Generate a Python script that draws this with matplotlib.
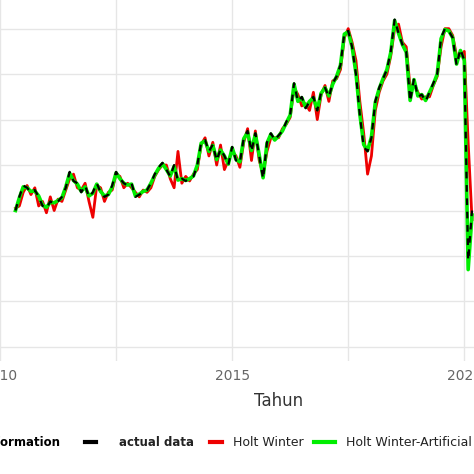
import numpy as np
import matplotlib.pyplot as plt
from matplotlib.lines import Line2D

# monthly values starting 2010-05 (arbitrary units)
actual = [3.0, 3.3, 3.55, 3.5, 3.4, 3.45, 3.3, 3.1,
          3.05, 3.2, 3.15, 3.2, 3.3, 3.5, 3.85, 3.65, 3.6, 3.4, 3.55, 3.3,
          3.4, 3.6, 3.4, 3.3, 3.35, 3.55, 3.85, 3.7, 3.6, 3.55, 3.6, 3.3,
          3.35, 3.4, 3.45, 3.6, 3.8, 3.95, 4.05, 3.9, 3.75, 4.0, 3.65, 3.7,
          3.65, 3.7, 3.75, 4.0, 4.5, 4.55, 4.3, 4.45, 4.1, 4.35, 4.2, 4.0,
          4.4, 4.1, 4.05, 4.6, 4.75, 4.3, 4.7, 4.2, 3.7, 4.5, 4.7, 4.55,
          4.65, 4.75, 4.95, 5.1, 5.8, 5.4, 5.5, 5.25, 5.4, 5.5, 5.2, 5.6,
          5.7, 5.5, 5.8, 5.95, 6.2, 6.9, 6.95, 6.6, 6.0, 5.1, 4.4, 4.3,
          4.6, 5.4, 5.7, 5.9, 6.1, 6.5, 7.2, 6.9, 6.65, 6.5, 5.4, 5.9,
          5.5, 5.55, 5.4, 5.6, 5.8, 6.0, 6.8, 7.0, 6.95, 6.8, 6.2, 6.55,
          6.3, 1.9, 3.0]
holt_winter = [3.05, 3.1, 3.4, 3.55, 3.35, 3.5, 3.1, 3.2,
               2.95, 3.3, 3.0, 3.25, 3.2, 3.45, 3.7, 3.8, 3.5, 3.45, 3.6, 3.2,
               2.85, 3.55, 3.5, 3.2, 3.4, 3.45, 3.8, 3.75, 3.5, 3.6, 3.5, 3.4,
               3.3, 3.45, 3.4, 3.5, 3.75, 3.9, 4.0, 4.0, 3.7, 3.5, 4.3, 3.6,
               3.75, 3.65, 3.8, 3.9, 4.45, 4.6, 4.2, 4.5, 4.0, 4.44, 3.9, 4.1,
               4.3, 4.2, 3.95, 4.5, 4.8, 4.1, 4.75, 4.1, 3.8, 4.3, 4.6, 4.6,
               4.6, 4.8, 4.9, 5.05, 5.7, 5.55, 5.3, 5.35, 5.2, 5.6, 5.0, 5.55,
               5.75, 5.4, 5.85, 5.9, 6.1, 6.8, 7.0, 6.7, 6.3, 5.4, 4.7, 3.8,
               4.2, 5.2, 5.6, 5.85, 6.0, 6.4, 7.0, 7.1, 6.7, 6.6, 5.7, 5.8,
               5.6, 5.45, 5.5, 5.5, 5.75, 5.95, 6.6, 7.0, 7.0, 6.85, 6.4, 6.4,
               6.5, 4.5, 2.8]
hw_ann = [3.0, 3.28, 3.52, 3.5, 3.42, 3.43, 3.32, 3.12,
          3.07, 3.18, 3.17, 3.22, 3.28, 3.52, 3.82, 3.66, 3.58, 3.42, 3.52, 3.32,
          3.38, 3.58, 3.42, 3.32, 3.35, 3.52, 3.83, 3.7, 3.6, 3.56, 3.58, 3.32,
          3.36, 3.42, 3.45, 3.6, 3.78, 3.93, 4.03, 3.9, 3.76, 3.97, 3.67, 3.7,
          3.66, 3.7, 3.76, 4.0, 4.48, 4.53, 4.3, 4.43, 4.12, 4.33, 4.2, 4.02,
          4.38, 4.12, 4.07, 4.58, 4.72, 4.32, 4.68, 4.22, 3.72, 4.48, 4.68, 4.55,
          4.64, 4.75, 4.93, 5.1, 5.78, 5.4, 5.48, 5.27, 5.4, 5.48, 5.22, 5.58,
          5.7, 5.52, 5.78, 5.95, 6.2, 6.88, 6.93, 6.6, 6.02, 5.12, 4.45, 4.32,
          4.62, 5.38, 5.68, 5.9, 6.1, 6.48, 7.18, 6.9, 6.65, 6.48, 5.42, 5.88,
          5.52, 5.55, 5.42, 5.6, 5.78, 6.0, 6.78, 6.98, 6.95, 6.8, 6.22, 6.52,
          6.3, 1.7, 2.9]
start_year = 2010 + 4 / 12
x_ticks = [2010, 2015, 2020]
x_minor = [2012.5, 2017.5]
y_grid = [0, 1, 2, 3, 4, 5, 6, 7]

t = start_year + np.arange(len(actual)) / 12

fig = plt.figure(figsize=(4.74, 4.74), dpi=100)
ax = fig.add_axes([0, 113 / 474, 1, 361 / 474])
ax.plot(t, holt_winter, color='#ee0000', lw=2)
ax.plot(t, hw_ann, color='#00ee00', lw=2.6)
ax.plot(t, actual, color='black', lw=1.6, ls=(0, (3, 3)))

ax.set_xlim(2010.293, 2020.209)
ax.set_ylim(-0.31, 7.63)
ax.set_xticks(x_ticks)
ax.set_xticks(x_minor, minor=True)
ax.set_yticks(y_grid)
ax.set_yticklabels([])
ax.grid(True, which='both', color='#e6e6e6', lw=1)
ax.set_axisbelow(True)
ax.tick_params(length=0, which='both', labelsize=10, labelcolor='#666666', pad=6)
for s in ax.spines.values():
    s.set_visible(False)
ax.set_xlabel('Tahun', fontsize=12, color='#333333')
ax.xaxis.set_label_coords(279 / 474, -0.085)

# legend drawn by hand, it is cut off on both sides
ly = 1 - 442 / 474
fig.text(61 / 474, ly, 'Information', ha='right', va='center', fontsize=8.5, fontweight='bold')
items = [('black', 85, 96, 119, 'actual data', True),
         ('#ee0000', 210, 222, 233, 'Holt Winter', False),
         ('#00ee00', 314, 335, 346, 'Holt Winter-Artificial Neural Network', False)]
for col, x0, x1, xt, lab, bold in items:
    fig.add_artist(Line2D([x0 / 474, x1 / 474], [ly, ly], color=col, lw=3, transform=fig.transFigure))
    fig.text(xt / 474, ly, lab, ha='left', va='center',
             fontsize=8.5 if bold else 9, fontweight='bold' if bold else 'normal', color='#222222')

fig.savefig('out.png', dpi=100)
